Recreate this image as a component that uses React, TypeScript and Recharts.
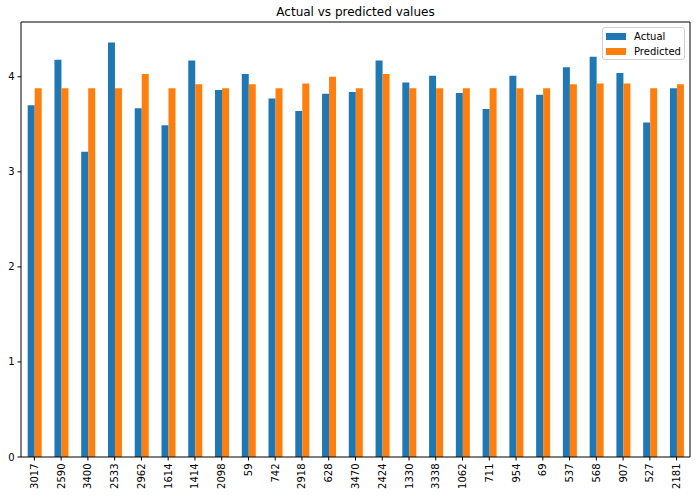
import { BarChart, Bar, XAxis, YAxis, Legend } from 'recharts';

const ids = ['3017', '2590', '3400', '2533', '2962', '1614', '1414', '2098', '59', '742', '2918', '628', '3470',
  '2424', '1330', '3338', '1062', '711', '954', '69', '537', '568', '907', '527', '2181'];

const actual = [3.70, 4.18, 3.21, 4.36, 3.67, 3.49, 4.17, 3.86, 4.03, 3.77, 3.64, 3.82, 3.84,
  4.17, 3.94, 4.01, 3.83, 3.66, 4.01, 3.81, 4.10, 4.21, 4.04, 3.52, 3.88];

const predicted = [3.88, 3.88, 3.88, 3.88, 4.03, 3.88, 3.92, 3.88, 3.92, 3.88, 3.93, 4.00, 3.88,
  4.03, 3.88, 3.88, 3.88, 3.88, 3.88, 3.88, 3.92, 3.93, 3.93, 3.88, 3.92];

const yTicks = [0, 1, 2, 3, 4];

const data = ids.map((id, i) => ({ id, Actual: actual[i], Predicted: predicted[i] }));

const FONT = '"DejaVu Sans", sans-serif';

function RotatedTick({ x, y, payload }: any) {
  return (
    <g transform={`translate(${x},${y})`}>
      <text transform="rotate(-90)" textAnchor="end" dy="0.35em" fontSize={10} fill="#000" fontFamily={FONT}>
        {payload.value}
      </text>
    </g>
  );
}

function LegendBox({ payload }: any) {
  return (
    <div
      style={{
        width: 83,
        height: 33,
        boxSizing: 'border-box',
        border: '1px solid #d0d0d0',
        borderRadius: 3,
        background: 'rgba(255,255,255,0.8)',
        padding: '1px 0 1px 3px',
        fontFamily: FONT,
        fontSize: 10,
        color: '#000',
        whiteSpace: 'nowrap',
      }}
    >
      {(payload || []).map((p: any) => (
        <div key={p.value} style={{ display: 'flex', alignItems: 'center', height: 15 }}>
          <span style={{ display: 'inline-block', width: 20, height: 7, background: p.color, marginRight: 8 }} />
          {p.value}
        </div>
      ))}
    </div>
  );
}

export default function App() {
  return (
    <div style={{ position: 'absolute', left: 0, top: 0, width: 697, height: 497, background: '#fff' }}>
      <div
        style={{
          position: 'absolute',
          top: 5,
          left: 21,
          width: 669,
          textAlign: 'center',
          fontFamily: FONT,
          fontSize: 12,
          color: '#000',
        }}
      >
        Actual vs predicted values
      </div>
      <BarChart
        width={697}
        height={497}
        data={data}
        margin={{ top: 21, right: 6, left: 0, bottom: 0 }}
        barCategoryGap="25%"
        barGap={0}
      >
        <XAxis
          dataKey="id"
          interval={0}
          height={40}
          tickSize={3.5}
          tickMargin={3}
          tick={<RotatedTick />}
          stroke="#000"
          tickLine={{ stroke: '#000' }}
        />
        <XAxis xAxisId="top" dataKey="id" orientation="top" height={1} tick={false} tickLine={false} stroke="#000" />
        <YAxis
          domain={[0, 4.576]}
          ticks={yTicks}
          width={21}
          tickSize={3.5}
          tickMargin={3}
          allowDataOverflow
          tick={{ fontSize: 10, fill: '#000', fontFamily: FONT }}
          stroke="#000"
        />
        <YAxis yAxisId="right" orientation="right" width={1} domain={[0, 4.576]} tick={false} tickLine={false} stroke="#000" />
        <Legend
          verticalAlign="middle"
          align="center"
          layout="vertical"
          content={<LegendBox />}
          wrapperStyle={{ top: 27, left: 602, right: 'auto', bottom: 'auto', width: 'auto' }}
        />
        <Bar dataKey="Actual" fill="#1f77b4" isAnimationActive={false} />
        <Bar dataKey="Predicted" fill="#ff7f0e" isAnimationActive={false} />
      </BarChart>
    </div>
  );
}
